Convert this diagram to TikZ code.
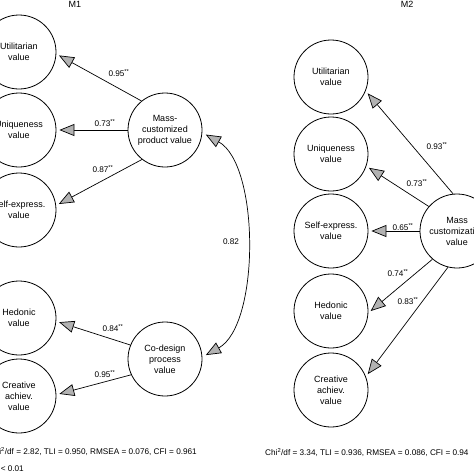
\documentclass[tikz,border=0pt]{standalone}
\usepackage{fontspec}
\setmainfont{Liberation Sans}
\usetikzlibrary{arrows.meta}
\begin{document}
\begin{tikzpicture}[x=1pt,y=-1pt,
  lat/.style={circle,draw,line width=0.8pt,minimum size=74pt,inner sep=0pt,align=center,font=\fontsize{9}{11}\selectfont},
  tipA/.style={Triangle[length=15pt,width=12pt,fill=gray!60]},
  pathA/.style={line width=0.7pt,-{Triangle[length=15pt,width=12pt,fill=gray!60]},shorten >=3pt},
  corr/.style={line width=0.7pt,{Triangle[length=15pt,width=12pt,fill=gray!60]}-{Triangle[length=15pt,width=12pt,fill=gray!60]},shorten >=4pt,shorten <=4pt},
  coef/.style={font=\fontsize{8.2}{10}\selectfont,inner sep=1pt},
  title/.style={font=\fontsize{9}{11}\selectfont,inner sep=0pt}]
\useasboundingbox (0,0) rectangle (474,474);
\clip (0,0) rectangle (474,474);
% titles
\node[title,anchor=base] (t1) at (75,7) {M1};
\node[title,anchor=base] (t2) at (407,7) {M2};
% M1
\node[lat] (u1) at (19,52) {Utilitarian\\value};
\node[lat] (q1) at (19,130) {Uniqueness\\value};
\node[lat] (s1) at (19,210) {Self-express.\\value};
\node[lat] (h1) at (19,318) {Hedonic\\value};
\node[lat] (c1) at (19,396) {Creative\\achiev.\\value};
\node[lat] (mc) at (165,130) {Mass-\\customized\\product value};
\node[lat] (cd) at (165,359) {Co-design\\process\\value};
\draw[pathA] (mc.129) -- (u1.-3);
\draw[pathA] (mc.180) -- (q1.0);
\draw[pathA] (mc.-128) -- (s1.7);
\draw[pathA] (cd.158) -- (h1.-5);
\draw[pathA] (cd.-155) -- (c1.2);
\draw[corr] (mc.-4) .. controls (260,165) and (260,325) .. (cd.3);
\node[coef] (l1) at (119,73) {0.95\textsuperscript{**}};
\node[coef] (l2) at (105,123) {0.73\textsuperscript{**}};
\node[coef] (l3) at (103,169) {0.87\textsuperscript{**}};
\node[coef] (l4) at (113,328) {0.84\textsuperscript{**}};
\node[coef] (l5) at (105,374) {0.95\textsuperscript{**}};
\node[coef] (l6) at (231,242) {0.82};
\node[coef,anchor=base east] (f1) at (198,454) {Chi\textsuperscript{2}/df = 2.82, TLI = 0.950, RMSEA = 0.076, CFI = 0.961};
\node[coef,anchor=base east] (f2) at (25,471) {**p < 0.01};
% M2
\node[lat] (u2) at (331,77) {Utilitarian\\value};
\node[lat] (q2) at (331,154) {Uniqueness\\value};
\node[lat] (s2) at (331,231) {Self-express.\\value};
\node[lat] (h2) at (331,311) {Hedonic\\value};
\node[lat] (c2) at (331,390) {Creative\\achiev.\\value};
\node[lat] (m2) at (457,231) {Mass\\customization\\value};
\draw[pathA] (m2.96) -- (u2.-22);
\draw[pathA] (m2.139) -- (q2.-19);
\draw[pathA] (m2.180) -- (s2.0);
\draw[pathA] (m2.-131) -- (h2.-3);
\draw[pathA] (m2.-104) -- (c2.21);
\node[coef] (k1) at (437,146) {0.93\textsuperscript{**}};
\node[coef] (k2) at (417,183) {0.73\textsuperscript{**}};
\node[coef] (k3) at (403,227) {0.65\textsuperscript{**}};
\node[coef] (k4) at (398,273) {0.74\textsuperscript{**}};
\node[coef] (k5) at (408,301) {0.83\textsuperscript{**}};
\node[coef,anchor=base west] (f3) at (264,455) {Chi\textsuperscript{2}/df = 3.34, TLI = 0.936, RMSEA = 0.086, CFI = 0.94};
\end{tikzpicture}
\end{document}
